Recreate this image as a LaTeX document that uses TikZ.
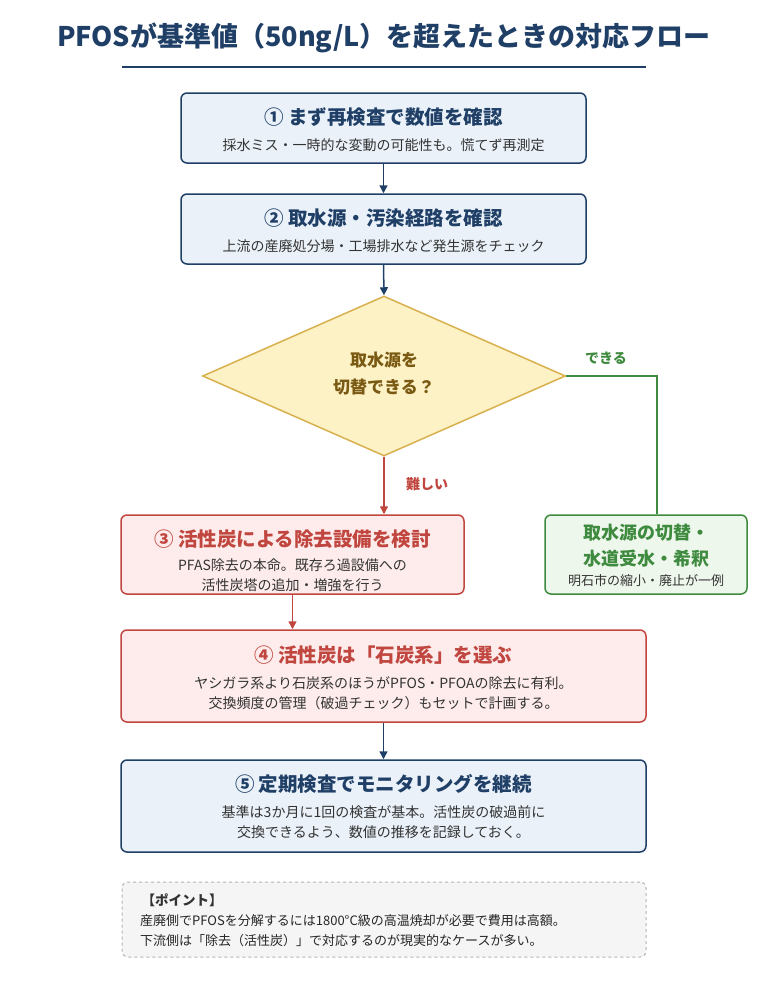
\documentclass[tikz,border=0pt]{standalone}
\usepackage{fontspec}
\setmainfont{Noto Sans CJK JP}
\usetikzlibrary{shapes.geometric,arrows.meta}
\definecolor{navy}{HTML}{1F3F66}
\definecolor{bluefill}{HTML}{EAF1F9}
\definecolor{redc}{HTML}{C0463F}
\definecolor{redfill}{HTML}{FDECEB}
\definecolor{greenc}{HTML}{3E8A3E}
\definecolor{greenfill}{HTML}{EEF7EC}
\definecolor{yelfill}{HTML}{FDF1C6}
\definecolor{yelc}{HTML}{D9B04F}
\definecolor{brownc}{HTML}{7A5A12}
\definecolor{textc}{HTML}{333333}
\begin{document}
\begin{tikzpicture}[x=1pt,y=-1pt,
 box/.style={draw,rounded corners=6pt,line width=1.5pt,inner sep=0pt},
 bbox/.style={box,draw=navy,fill=bluefill},
 rbox/.style={box,draw=redc,fill=redfill},
 ttl/.style={font=\bfseries\fontsize{19.5}{22}\selectfont},
 sub/.style={font=\fontsize{14}{20}\selectfont,text=textc,align=center},
 arr/.style={line width=1.5pt,-{Triangle[length=8pt,width=8pt]}}]
\useasboundingbox (0,0) rectangle (768,990);
\node[font=\bfseries\fontsize{27}{30}\selectfont,text=navy] (title) at (384,38) {PFOSが基準値（50ng/L）を超えたときの対応フロー};
\draw[navy,line width=1.5pt] (122,67) -- (646,67);
% box1
\node[bbox,minimum width=405pt,minimum height=70pt] (b1) at (383.5,128) {};
\node[ttl,text=navy] (b1t) at (383.5,117) {① まず再検査で数値を確認};
\node[sub] (b1s) at (383.5,145) {採水ミス・一時的な変動の可能性も。慌てず再測定};
% box2
\node[bbox,minimum width=405pt,minimum height=70pt] (b2) at (383.5,229) {};
\node[ttl,text=navy] (b2t) at (383.5,218) {② 取水源・汚染経路を確認};
\node[sub] (b2s) at (383.5,246) {上流の産廃処分場・工場排水など発生源をチェック};
% diamond
\node[diamond,draw=yelc,fill=yelfill,line width=1.5pt,minimum width=363pt,minimum height=160pt,inner sep=0pt] (d) at (384,376) {};
\node[font=\bfseries\fontsize{17}{27}\selectfont,text=brownc,align=center] (dt) at (384,374) {取水源を\\切替できる？};
% box3
\node[rbox,minimum width=343pt,minimum height=79pt] (b3) at (292.5,554.5) {};
\node[ttl,text=redc] (b3t) at (292.5,539) {③ 活性炭による除去設備を検討};
\node[sub] (b3s) at (292.5,575) {PFAS除去の本命。既存ろ過設備への\\活性炭塔の追加・増強を行う};
% green
\node[box,draw=greenc,fill=greenfill,minimum width=202pt,minimum height=79pt] (g) at (646,554.5) {};
\node[font=\bfseries\fontsize{18}{26}\selectfont,text=greenc,align=center] (gt) at (646,546) {取水源の切替・\\水道受水・希釈};
\node[font=\fontsize{13}{15}\selectfont,text=textc] (gs) at (646,581) {明石市の縮小・廃止が一例};
% box4
\node[rbox,minimum width=525pt,minimum height=92pt] (b4) at (383.5,676) {};
\node[ttl,text=redc] (b4t) at (383.5,655) {④ 活性炭は「石炭系」を選ぶ};
\node[sub] (b4s) at (383.5,693) {ヤシガラ系より石炭系のほうがPFOS・PFOAの除去に有利。\\交換頻度の管理（破過チェック）もセットで計画する。};
% box5
\node[bbox,minimum width=525pt,minimum height=92pt] (b5) at (383.5,806) {};
\node[ttl,text=navy] (b5t) at (383.5,784) {⑤ 定期検査でモニタリングを継続};
\node[sub] (b5s) at (383.5,822) {基準は3か月に1回の検査が基本。活性炭の破過前に\\交換できるよう、数値の推移を記録しておく。};
% note
\node[draw=gray!60,dashed,fill=gray!8,rounded corners=6pt,line width=1pt,minimum width=524pt,minimum height=75pt,inner sep=0pt] (n) at (384,919.5) {};
\node[anchor=west,font=\bfseries\fontsize{13.5}{15}\selectfont,text=gray!40!black] (nt) at (138,900) {【ポイント】};
\node[anchor=north west,font=\fontsize{13}{20}\selectfont,text=gray!30!black,align=left,inner sep=0pt] (nb) at (140,914) {産廃側でPFOSを分解するには1800°C級の高温焼却が必要で費用は高額。\\下流側は「除去（活性炭）」で対応するのが現実的なケースが多い。};
% arrows
\draw[arr,navy] (b1.south) -- (b2.north);
\draw[arr,navy] (b2.south) -- (d.north);
\draw[arr,redc] (d.south) -- (b3.north -| d.south);
\node[font=\bfseries\fontsize{14}{16}\selectfont,text=redc] (hard) at (427,484) {難しい};
\draw[line width=1.5pt,greenc] (d.east) -- (657,376) -- (g.north -| 657,0);
\node[font=\bfseries\fontsize{14}{16}\selectfont,text=greenc] (can) at (606,358) {できる};
\draw[arr,redc] (b3.south) -- (b4.north -| b3.south);
\draw[arr,navy] (b4.south) -- (b5.north);
\end{tikzpicture}
\end{document}
